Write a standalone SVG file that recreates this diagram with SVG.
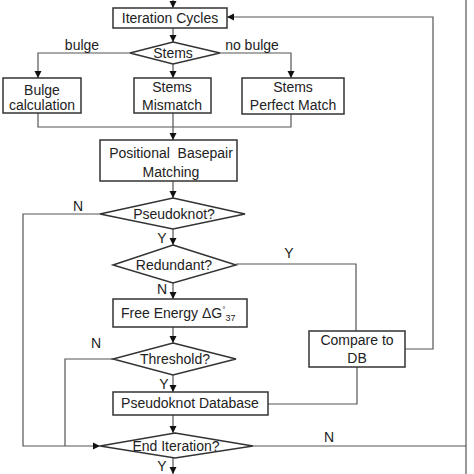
<svg xmlns="http://www.w3.org/2000/svg" width="474" height="474" viewBox="0 0 474 474">
<style>
.box{fill:#fff;stroke:#333;stroke-width:1.5}
.dia{fill:#fff;stroke:#333;stroke-width:1.5}
.ln{fill:none;stroke:#555;stroke-width:1.2}
text{font-family:"Liberation Sans",Arial,sans-serif;font-size:14px;fill:#222}
.c{text-anchor:middle}
</style>
<defs>
<marker id="ah" markerWidth="8" markerHeight="8" refX="7" refY="4" orient="auto" markerUnits="userSpaceOnUse">
<path d="M0,0.5 L7,4 L0,7.5 Z" fill="#111"/>
</marker>
</defs>
<rect width="474" height="474" fill="#fff"/>
<g id="connectors">
<path class="ln" d="M173,0 V8" marker-end="url(#ah)"/>
<path class="ln" d="M173,28 V42" marker-end="url(#ah)"/>
<path class="ln" d="M130,53 H38 V78" marker-end="url(#ah)"/>
<path class="ln" d="M220,53 H291 V78" marker-end="url(#ah)"/>
<path class="ln" d="M173,64 V78" marker-end="url(#ah)"/>
<path class="ln" d="M38,113 V127 H291 V114 M173,113 V127"/>
<path class="ln" d="M173,127 V140" marker-end="url(#ah)"/>
<path class="ln" d="M173,181 V198" marker-end="url(#ah)"/>
<path class="ln" d="M100,214 H23 V446 H100" marker-end="url(#ah)"/>
<path class="ln" d="M173,229 V245" marker-end="url(#ah)"/>
<path class="ln" d="M236,264 H356 V331"/>
<path class="ln" d="M173,283 V299" marker-end="url(#ah)"/>
<path class="ln" d="M173,327 V343" marker-end="url(#ah)"/>
<path class="ln" d="M113,359 H65 V446"/>
<path class="ln" d="M173,375 V392" marker-end="url(#ah)"/>
<path class="ln" d="M268,404 H357 V367"/>
<path class="ln" d="M173,415 V433" marker-end="url(#ah)"/>
<path class="ln" d="M173,458 V474" marker-end="url(#ah)"/>
<path class="ln" d="M253,446 H466 M466,0 V474"/>
<path class="ln" d="M405,349 H433 V17 H227" marker-end="url(#ah)"/>
<text x="82" y="50" class="c">bulge</text>
<text x="252" y="50" class="c">no bulge</text>
<text x="78" y="211" class="c">N</text>
<text x="162" y="243" class="c">Y</text>
<text x="289" y="258" class="c">Y</text>
<text x="162" y="294" class="c">N</text>
<text x="96" y="348" class="c">N</text>
<text x="164" y="389" class="c">Y</text>
<text x="162" y="471" class="c">Y</text>
<text x="329" y="442" class="c">N</text>
</g>
<g id="iteration-cycles">
<rect class="box" x="113" y="8" width="114" height="20"/>
<text x="170" y="23" class="c">Iteration Cycles</text>
</g>
<g id="stems">
<polygon class="dia" points="173,42 220,53 173,64 130,53"/>
<text x="173" y="58" class="c">Stems</text>
</g>
<g id="bulge-calculation">
<rect class="box" x="3" y="78" width="78" height="35"/>
<text x="42" y="95" class="c">Bulge</text>
<text x="42" y="110" class="c">calculation</text>
</g>
<g id="stems-mismatch">
<rect class="box" x="134" y="78" width="77" height="35"/>
<text x="172" y="92" class="c">Stems</text>
<text x="172" y="110" class="c">Mismatch</text>
</g>
<g id="stems-perfect-match">
<rect class="box" x="242" y="78" width="102" height="36"/>
<text x="293" y="92" class="c">Stems</text>
<text x="293" y="110" class="c">Perfect Match</text>
</g>
<g id="positional-basepair">
<rect class="box" x="100" y="140" width="137" height="41"/>
<text x="171" y="158" class="c" xml:space="preserve">Positional  Basepair</text>
<text x="171" y="177" class="c">Matching</text>
</g>
<g id="pseudoknot">
<polygon class="dia" points="173,198 245,214 173,229 100,214"/>
<text x="174" y="219" class="c">Pseudoknot?</text>
</g>
<g id="redundant">
<polygon class="dia" points="173,245 236,265 173,283 113,265"/>
<text x="174" y="270" class="c">Redundant?</text>
</g>
<g id="free-energy">
<rect class="box" x="113" y="299" width="134" height="28"/>
<text x="121" y="318">Free Energy ΔG<tspan font-size="8" dy="-6">°</tspan><tspan font-size="9" dy="9">37</tspan></text>
</g>
<g id="threshold">
<polygon class="dia" points="173,343 236,359 173,375 113,359"/>
<text x="175" y="364" class="c">Threshold?</text>
</g>
<g id="pseudoknot-database">
<rect class="box" x="113" y="392" width="155" height="23"/>
<text x="190" y="408" class="c">Pseudoknot Database</text>
</g>
<g id="compare-db">
<rect class="box" x="309" y="331" width="96" height="36"/>
<text x="357" y="345" class="c">Compare to</text>
<text x="357" y="363" class="c">DB</text>
</g>
<g id="end-iteration">
<polygon class="dia" points="175,433 253,446 175,458 100,446"/>
<text x="176" y="451" class="c">End Iteration?</text>
</g>
</svg>
